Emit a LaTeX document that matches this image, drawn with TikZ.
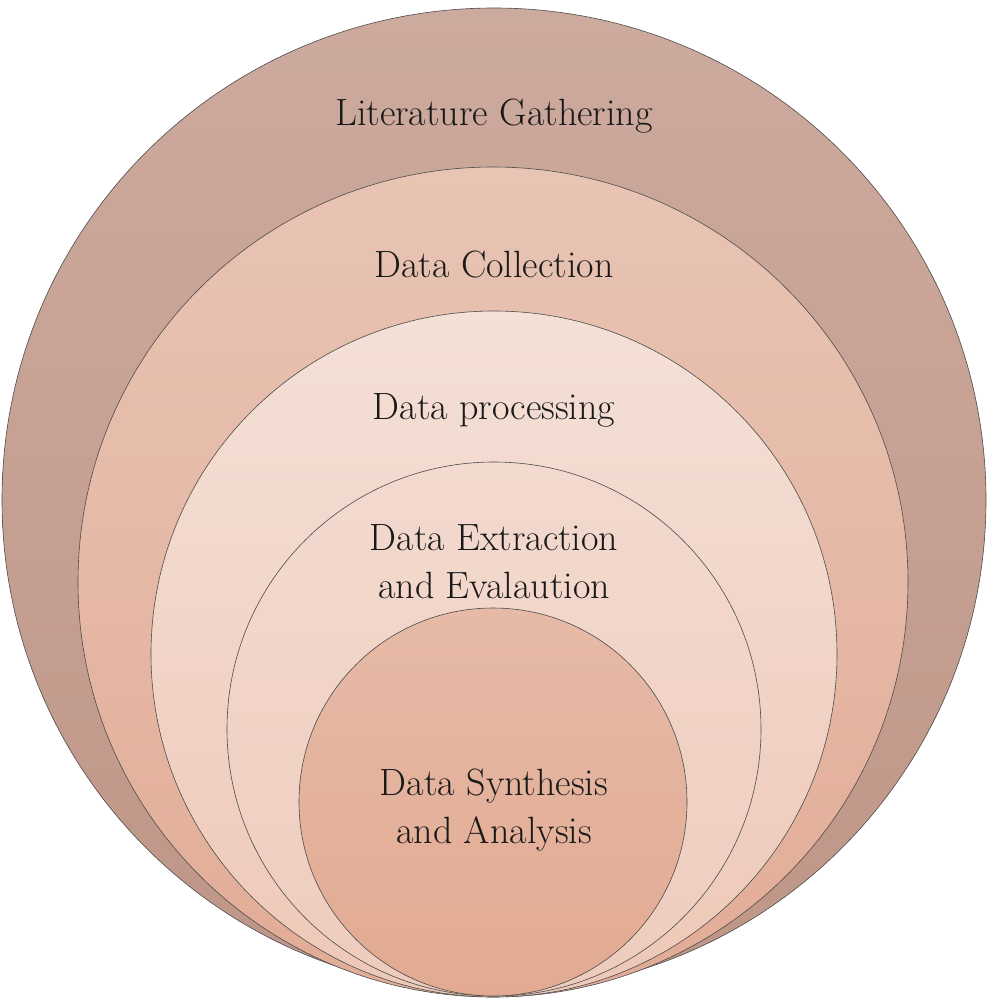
\documentclass[tikz,border=0pt]{standalone}
\begin{document}
\begin{tikzpicture}[x=1pt,y=-1pt,
  ring/.style={draw=black!70,line width=0.6pt},
  lbl/.style={font=\fontsize{38}{48}\selectfont,align=center,text=black!90}]
\useasboundingbox (0,0) rectangle (990,998);
\fill[white] (0,0) rectangle (990,998);
\path[ring,top color={rgb,255:red,205;green,170;blue,158},bottom color={rgb,255:red,190;green,150;blue,135}] (494,500) circle[radius=492];
\path[ring,top color={rgb,255:red,232;green,196;blue,180},bottom color={rgb,255:red,226;green,172;blue,150}] (493,582) circle[radius=415];
\path[ring,top color={rgb,255:red,244;green,224;blue,215},bottom color={rgb,255:red,238;green,200;blue,184}] (494,654) circle[radius=343];
\path[ring,top color={rgb,255:red,243;green,218;blue,206},bottom color={rgb,255:red,238;green,204;blue,190}] (494,729) circle[radius=267];
\path[ring,top color={rgb,255:red,230;green,186;blue,166},bottom color={rgb,255:red,226;green,170;blue,146}] (493,802) circle[radius=194];
\node[lbl] (t1) at (494,116) {Literature Gathering};
\node[lbl] (t2) at (494,265) {Data Collection};
\node[lbl] (t3) at (494,410) {Data processing};
\node[lbl] (t4) at (494,562) {Data Extraction\\and Evalaution};
\node[lbl] (t5) at (494,810) {Data Synthesis\\and Analysis};
\end{tikzpicture}
\end{document}
